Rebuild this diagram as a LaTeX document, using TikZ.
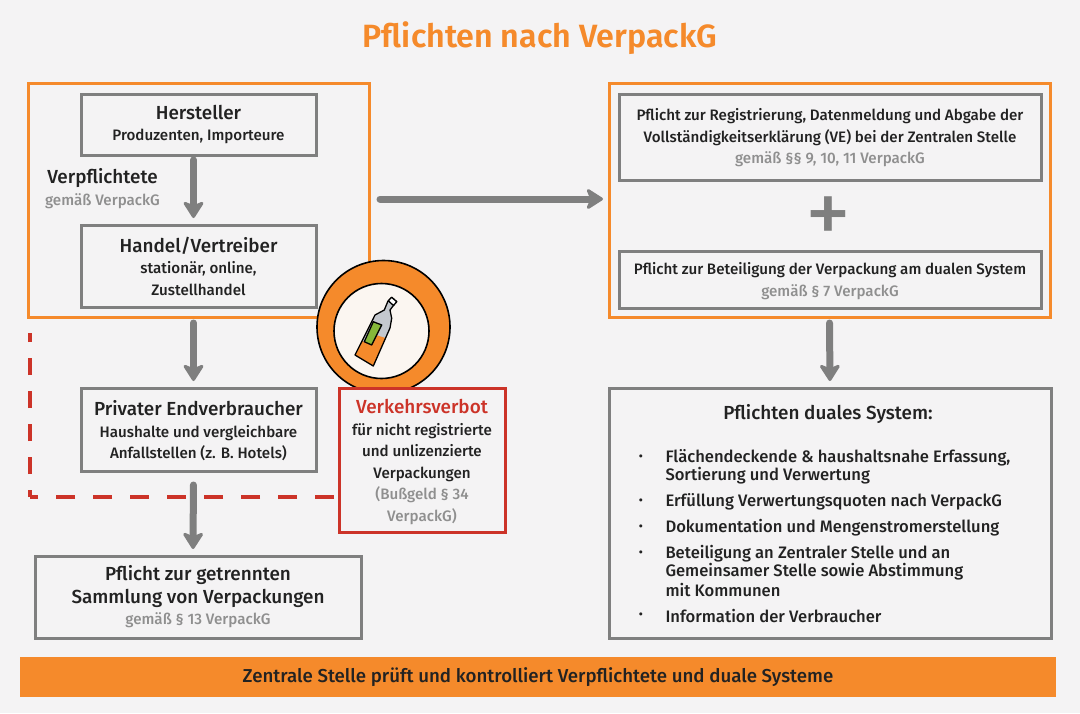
\documentclass[tikz,border=0pt]{standalone}
\usepackage{fontspec}
\usetikzlibrary{arrows.meta}
\setmainfont{Liberation Sans}
\newfontfamily\headf{Fira Sans Medium}
\newfontfamily\plusf{Fira Sans}
\newfontfamily\titlef{Fira Sans SemiBold}
\newfontfamily\barf{Fira Sans Medium}
\newfontfamily\bodyf{Fira Sans Medium}
\definecolor{bgc}{HTML}{F4F3F4}
\definecolor{org}{HTML}{F58A2B}
\definecolor{gry}{HTML}{7F7F7F}
\definecolor{redc}{HTML}{CC3328}
\definecolor{txt}{HTML}{222222}
\definecolor{gtx}{HTML}{8F8F8F}
\definecolor{lime}{HTML}{86B83A}
\definecolor{bottlegray}{HTML}{C4C8CE}
\definecolor{ringin}{HTML}{FBF6F1}
\newcommand{\hd}[1]{{\headf\fontsize{18.9}{21}\selectfont #1}}
\newcommand{\gt}[1]{{\color{gtx}#1}}
\tikzset{
 x=1pt,y=-1pt,
 every node/.style={inner sep=0pt,outer sep=0pt,text=txt,font=\bodyf\fontsize{15.15}{21.5}\selectfont},
 graybox/.style={draw=gry,line width=3pt,align=center},
 orangebox/.style={draw=org,line width=3pt},
 redbox/.style={draw=redc,line width=3pt,align=center},
 listline/.style={anchor=west,font=\bodyf\fontsize{16.6}{18}\selectfont},
 garrow/.style={draw=gry,line width=7pt,line cap=round,-{Stealth[round,inset=5pt,length=19pt,width=24pt,line width=3pt]}},
 reddash/.style={draw=redc,line width=3.3pt},
 bottleline/.style={draw=black,line width=1.3pt,line join=round},
}
\begin{document}
\begin{tikzpicture}
\path[fill=bgc] (0,0) rectangle (1080,713);
\useasboundingbox (0,0) rectangle (1080,713);
\node (title) at (540,38.5) {\titlef\fontsize{32.2}{36}\selectfont\color{org}Pflichten nach VerpackG};

\node[orangebox,minimum width=341pt,minimum height=234pt] (outerL) at (198.5,200) {};
\node[orangebox,minimum width=441pt,minimum height=234pt] (outerR) at (829.5,200) {};

\node[graybox,minimum width=235pt,minimum height=61pt] (her) at (198.5,124.5) {\hd{Hersteller}\\[-1pt]Produzenten, Importeure};
\node[graybox,minimum width=235pt,minimum height=82pt] (han) at (198.5,266) {\hd{Handel/Vertreiber}\\stationär, online,\\Zustellhandel};
\node (verpf) at (102.5,178) {\hd{Verpflichtete}};
\node (vgem) at (102.5,201) {\gt{gemäß VerpackG}};
\node[graybox,minimum width=235pt,minimum height=83pt,text depth=-2pt] (priv) at (198.5,429.5) {\hd{Privater Endverbraucher}\\Haushalte und vergleichbare\\Anfallstellen (z. B. Hotels)};
\node[graybox,minimum width=326pt,minimum height=82pt] (samm) at (198,597) {\hd{Pflicht zur getrennten}\\[1pt]\hd{Sammlung von Verpackungen}\\\gt{gemäß § 13 VerpackG}};

\node[graybox,minimum width=422pt,minimum height=86pt] (r1) at (830,137) {};
\node (r1t) at (830,138) {\begin{tabular}{@{}c@{}}Pflicht zur Registrierung, Datenmeldung und Abgabe der\\Vollständigkeitserklärung (VE) bei der Zentralen Stelle\\\gt{gemäß §§ 9, 10, 11 VerpackG}\end{tabular}};
\node (plus) at (828,221) {\plusf\fontsize{92}{92}\selectfont\color{gry}+};
\node[graybox,minimum width=422pt,minimum height=57pt] (r2) at (830,279.5) {};
\node (r2t) at (830,281) {\begin{tabular}{@{}c@{}}Pflicht zur Beteiligung der Verpackung am dualen System\\\gt{gemäß § 7 VerpackG}\end{tabular}};

\node[graybox,minimum width=442pt,minimum height=250pt] (dual) at (830,513) {};
\node (dualt) at (828,414) {\hd{Pflichten duales System:}};
\node[listline] (la) at (665.5,458) {Flächendeckende \& haushaltsnahe Erfassung,};
\node[listline] (lb) at (665.5,476) {Sortierung und Verwertung};
\node[listline] (lc) at (665.5,502) {Erfüllung Verwertungsquoten nach VerpackG};
\node[listline] (ld) at (665.5,528) {Dokumentation und Mengenstromerstellung};
\node[listline] (le) at (665.5,554) {Beteiligung an Zentraler Stelle und an};
\node[listline] (lf) at (665.5,572) {Gemeinsamer Stelle sowie Abstimmung};
\node[listline] (lg) at (665.5,590) {mit Kommunen};
\node[listline] (lh) at (665.5,616) {Information der Verbraucher};
\foreach \yy/\nm in {458/a,502/c,528/d,554/e,616/h}{
 \node (bul\nm) at (641,\yy) {\fontsize{12}{12}\selectfont •};
}

\node[fill=org,minimum width=1036pt,minimum height=40pt] (bar) at (538,677) {\barf\fontsize{18.7}{21}\selectfont Zentrale Stelle prüft und kontrolliert Verpflichtete und duale Systeme};

% ring and bottle
\path[fill=org,draw=black,line width=1.6pt] (383.5,327) circle (66.5);
\path[fill=ringin,draw=black,line width=1.6pt] (381.5,331) circle (47.5);
\path[fill=bottlegray] (355,355) -- (373.3,366) -- (390,328) -- (391.7,318.3) -- (390,310) -- (396.7,301.7) -- (391.7,297.3) -- (387.7,301.7) -- (384.3,310) -- (375,315) -- (371.7,321.7) -- cycle;
\path[fill=org] (355,355) -- (373.3,366) -- (385.5,338) -- (376,335) -- (371,345) -- (362,341) -- cycle;
\path[bottleline] (355,355) -- (373.3,366) -- (390,328) -- (391.7,318.3) -- (390,310) -- (394.5,304) -- (396.7,301.7) -- (391.7,297.3) -- (387.7,301.7) -- (384.3,310) -- (375,315) -- (371.7,321.7) -- cycle;
\path[fill=white,bottleline] (388.3,300.8) -- (391.7,297.3) -- (396.7,301.7) -- (393.5,305.5) -- cycle;
\path[fill=lime,bottleline] (373.3,321.7) -- (381.7,325) -- (371.7,345) -- (364.3,341.7) -- cycle;

\node[redbox,fill=bgc,minimum width=166pt,minimum height=144pt] (verk) at (422,460) {};
\node (verkt) at (422,463) {\begin{tabular}{@{}c@{}}\hd{\color{redc}Verkehrsverbot}\\für nicht registrierte\\und unlizenzierte\\Verpackungen\\\gt{(Bußgeld § 34}\\\gt{VerpackG)}\end{tabular}};

% connectors
\draw[garrow,shorten <=5pt,shorten >=7pt] ([xshift=-5pt]her.south) -- ([xshift=-5pt]han.north);
\draw[garrow,shorten <=6pt,shorten >=7pt] ([xshift=-5pt]outerL.south -| her.south) -- ([xshift=-5pt]priv.north);
\draw[garrow,shorten <=14pt,shorten >=7pt] ([xshift=-5pt]priv.south) -- ([xshift=-5pt]samm.north);
\draw[garrow,shorten <=11pt,shorten >=6pt] ([yshift=1pt]outerL.east) -- ([yshift=1pt]outerR.west);
\draw[garrow,shorten <=6pt,shorten >=7pt] (outerR.south) -- (dual.north);
\coordinate (dashcorner) at (30,497);
\coordinate (dashtop) at (30,333);
\draw[reddash,dash pattern=on 19pt off 18pt,dash phase=32pt] (verk.west |- dashcorner) -- (dashcorner);
\draw[reddash,dash pattern=on 17pt off 16pt,dash phase=10pt] (dashcorner) -- (dashtop);
\end{tikzpicture}
\end{document}
